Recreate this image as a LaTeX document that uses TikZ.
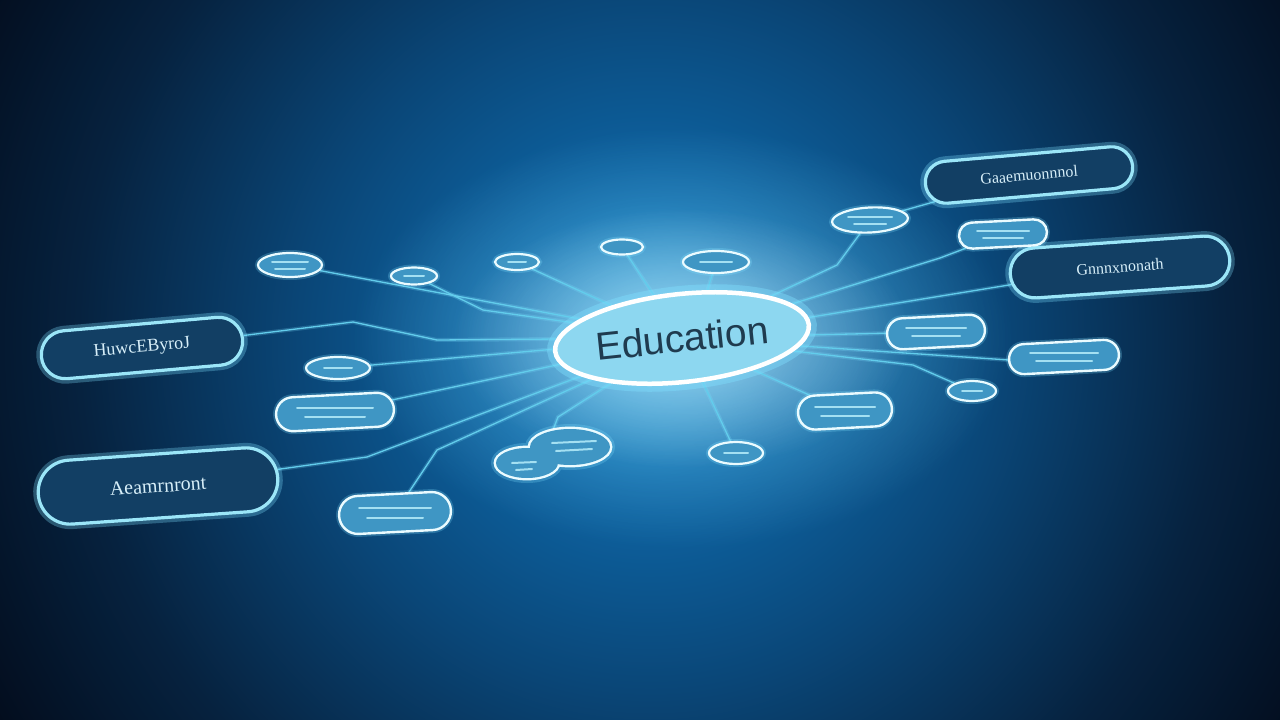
\documentclass[tikz,border=0pt]{standalone}
\usepackage{fontspec}
\setmainfont{Liberation Sans}
\newfontfamily\labelfont{Liberation Serif}
\usetikzlibrary{shapes.geometric,shapes.misc,fadings,calc}
\definecolor{bgin}{HTML}{1A8FD0}
\definecolor{bgmid}{HTML}{0E66A6}
\definecolor{bgmid2}{HTML}{0A4677}
\definecolor{bgmid3}{HTML}{06223F}
\definecolor{bgout}{HTML}{030C1C}
\definecolor{linec}{HTML}{62CDEC}
\definecolor{bigfill}{HTML}{123F64}
\definecolor{bigbord}{HTML}{9BE6F8}
\definecolor{bigtext}{HTML}{D6EEF8}
\definecolor{smfill}{HTML}{3F96C4}
\definecolor{smbord}{HTML}{EAFBFF}
\definecolor{phc}{HTML}{B0E9F8}
\definecolor{cenfill}{HTML}{8DD7F0}
\definecolor{centext}{HTML}{1F3B4F}
\definecolor{glowc}{HTML}{7FE0FF}
\pgfdeclareradialshading{bgshade}{\pgfpoint{0bp}{0bp}}{color(0bp)=(bgin); color(140bp)=(bgmid); color(350bp)=(bgmid2); color(570bp)=(bgmid3); color(760bp)=(bgout); color(800bp)=(bgout)}
\tikzfading[name=glowfade, inner color=transparent!0, outer color=transparent!100]
\pgfdeclarelayer{bg}
\pgfdeclarelayer{lines}
\pgfsetlayers{bg,lines,main}
\newcommand\phl[3]{\draw[phline] ($(#1.center)+(-#2,#3)$) -- ($(#1.center)+(#2,#3)$);}
\begin{document}
\begin{tikzpicture}[x=1pt,y=-1pt,
  connline/.style={draw=linec, line width=1.3, preaction={draw=glowc, line width=4, opacity=0.22}},
  bignode/.style={rounded rectangle, fill=bigfill, draw=bigbord, line width=3.2, text=bigtext, inner sep=0,
     preaction={draw=glowc, line width=10, opacity=0.3}},
  smell/.style={ellipse, fill=smfill, draw=smbord, line width=2.2, inner sep=0,
     preaction={draw=glowc, line width=6, opacity=0.25}},
  smrr/.style={rounded rectangle, fill=smfill, draw=smbord, line width=2.4, inner sep=0,
     preaction={draw=glowc, line width=6, opacity=0.25}},
  censtyle/.style={ellipse, fill=cenfill, draw=white, line width=4.5, text=centext, inner sep=0,
     font=\fontsize{39}{40}\selectfont, preaction={draw=glowc, line width=16, opacity=0.4}},
  phline/.style={draw=phc, line width=2, line cap=round, opacity=0.9}
]
\useasboundingbox (0,0) rectangle (1280,720);
\begin{pgfonlayer}{bg}
  \begin{scope}
    \clip (0,0) rectangle (1280,720);
    \node[inner sep=0, outer sep=0] (bgsh) at (650,340) {\pgfuseshading{bgshade}};
    \fill[glowc, path fading=glowfade, fill opacity=0.55] (682,338) ellipse (330 and 210);
    \fill[white, path fading=glowfade, fill opacity=0.45] (682,338) ellipse (230 and 130);
  \end{scope}
\end{pgfonlayer}

% central node
\node[censtyle, minimum width=255, minimum height=88, rotate=6] (cen) at (682,338) {Education};

% big label nodes
\node[bignode, minimum width=202, minimum height=48, rotate=5, font=\labelfont\fontsize{18}{18}\selectfont] (lt) at (142,348) {HuwcEByroJ};
\node[bignode, minimum width=240, minimum height=64, rotate=4, font=\labelfont\fontsize{20}{20}\selectfont] (lb) at (158,486) {Aeamrnront};
\node[bignode, minimum width=208, minimum height=42, rotate=5, font=\labelfont\fontsize{16}{16}\selectfont] (tr) at (1029,175) {Gaaemuonnnol};
\node[bignode, minimum width=220, minimum height=50, rotate=4, font=\labelfont\fontsize{16}{16}\selectfont] (rt) at (1120,267) {Gnnnxnonath};

% small nodes
\node[smell, minimum width=64, minimum height=24] (a) at (290,265) {};
\node[smell, minimum width=46, minimum height=17] (b) at (414,276) {};
\node[smell, minimum width=44, minimum height=16] (c) at (517,262) {};
\node[smell, minimum width=42, minimum height=15] (d) at (622,247) {};
\node[smell, minimum width=66, minimum height=22] (e) at (716,262) {};
\node[smell, minimum width=76, minimum height=25, rotate=3] (f) at (870,220) {};
\node[smrr, minimum width=88, minimum height=26, rotate=3] (g) at (1003,234) {};
\node[smrr, minimum width=98, minimum height=31, rotate=3] (h) at (936,332) {};
\node[smrr, minimum width=110, minimum height=30, rotate=3] (i) at (1064,357) {};
\node[smell, minimum width=48, minimum height=20] (j) at (972,391) {};
\node[smrr, minimum width=94, minimum height=34, rotate=3] (k) at (845,411) {};
\node[smell, minimum width=54, minimum height=22] (l) at (736,453) {};
\node[smrr, minimum width=112, minimum height=38, rotate=3] (n) at (395,513) {};
\node[smrr, minimum width=118, minimum height=34, rotate=3] (o) at (335,412) {};
\node[smell, minimum width=64, minimum height=22] (p) at (338,368) {};

% blob node (two lobes)
\draw[smbord, line width=4.8, preaction={draw=glowc, line width=10, opacity=0.25}] (527,463) ellipse (31 and 15) (570,447) ellipse (40 and 18);
\fill[smfill] (527,463) ellipse (31 and 15) (570,447) ellipse (40 and 18);
\node[inner sep=0, minimum width=100, minimum height=46] (mb) at (553,453) {};
\draw[phline] (552,443) -- (596,441);
\draw[phline] (556,451) -- (592,449);
\draw[phline] (512,463) -- (536,462);
\draw[phline] (516,470) -- (532,469);

% placeholder text lines
\phl{a}{18}{-3}\phl{a}{15}{4}
\phl{b}{10}{0}
\phl{c}{9}{0}
\phl{e}{16}{0}
\phl{f}{22}{-3}\phl{f}{16}{4}
\phl{g}{26}{-3}\phl{g}{20}{4}
\phl{h}{30}{-4}\phl{h}{24}{4}
\phl{i}{34}{-4}\phl{i}{28}{4}
\phl{j}{10}{0}
\phl{k}{30}{-4}\phl{k}{24}{5}
\phl{l}{12}{0}
\phl{n}{36}{-5}\phl{n}{28}{5}
\phl{o}{38}{-4}\phl{o}{30}{5}
\phl{p}{14}{0}

% connectors
\begin{pgfonlayer}{lines}
\draw[connline] (lt) -- (353,322) -- (437,340) -- (cen);
\draw[connline] (a) -- (cen);
\draw[connline] (b) -- (483,310) -- (cen);
\draw[connline] (c) -- (cen);
\draw[connline] (d) -- (cen);
\draw[connline] (e) -- (cen.56);
\draw[connline] (f) -- (837,265) -- (cen);
\draw[connline] (tr) -- (f);
\draw[connline] (g) -- (940,258) -- (cen);
\draw[connline] (rt) -- (cen);
\draw[connline] (h) -- (cen);
\draw[connline] (i.west) -- (cen);
\draw[connline] (j) -- (913,365) -- (cen);
\draw[connline] (k) -- (cen);
\draw[connline] (l) -- (cen);
\draw[connline] (mb.north) -- (558,417) -- (cen);
\draw[connline] (n) -- (437,450) -- (cen);
\draw[connline] (lb) -- (367,457) -- (cen);
\draw[connline] (o) -- (487,380) -- (cen);
\draw[connline] (p) -- (cen);
\end{pgfonlayer}
\end{tikzpicture}
\end{document}
